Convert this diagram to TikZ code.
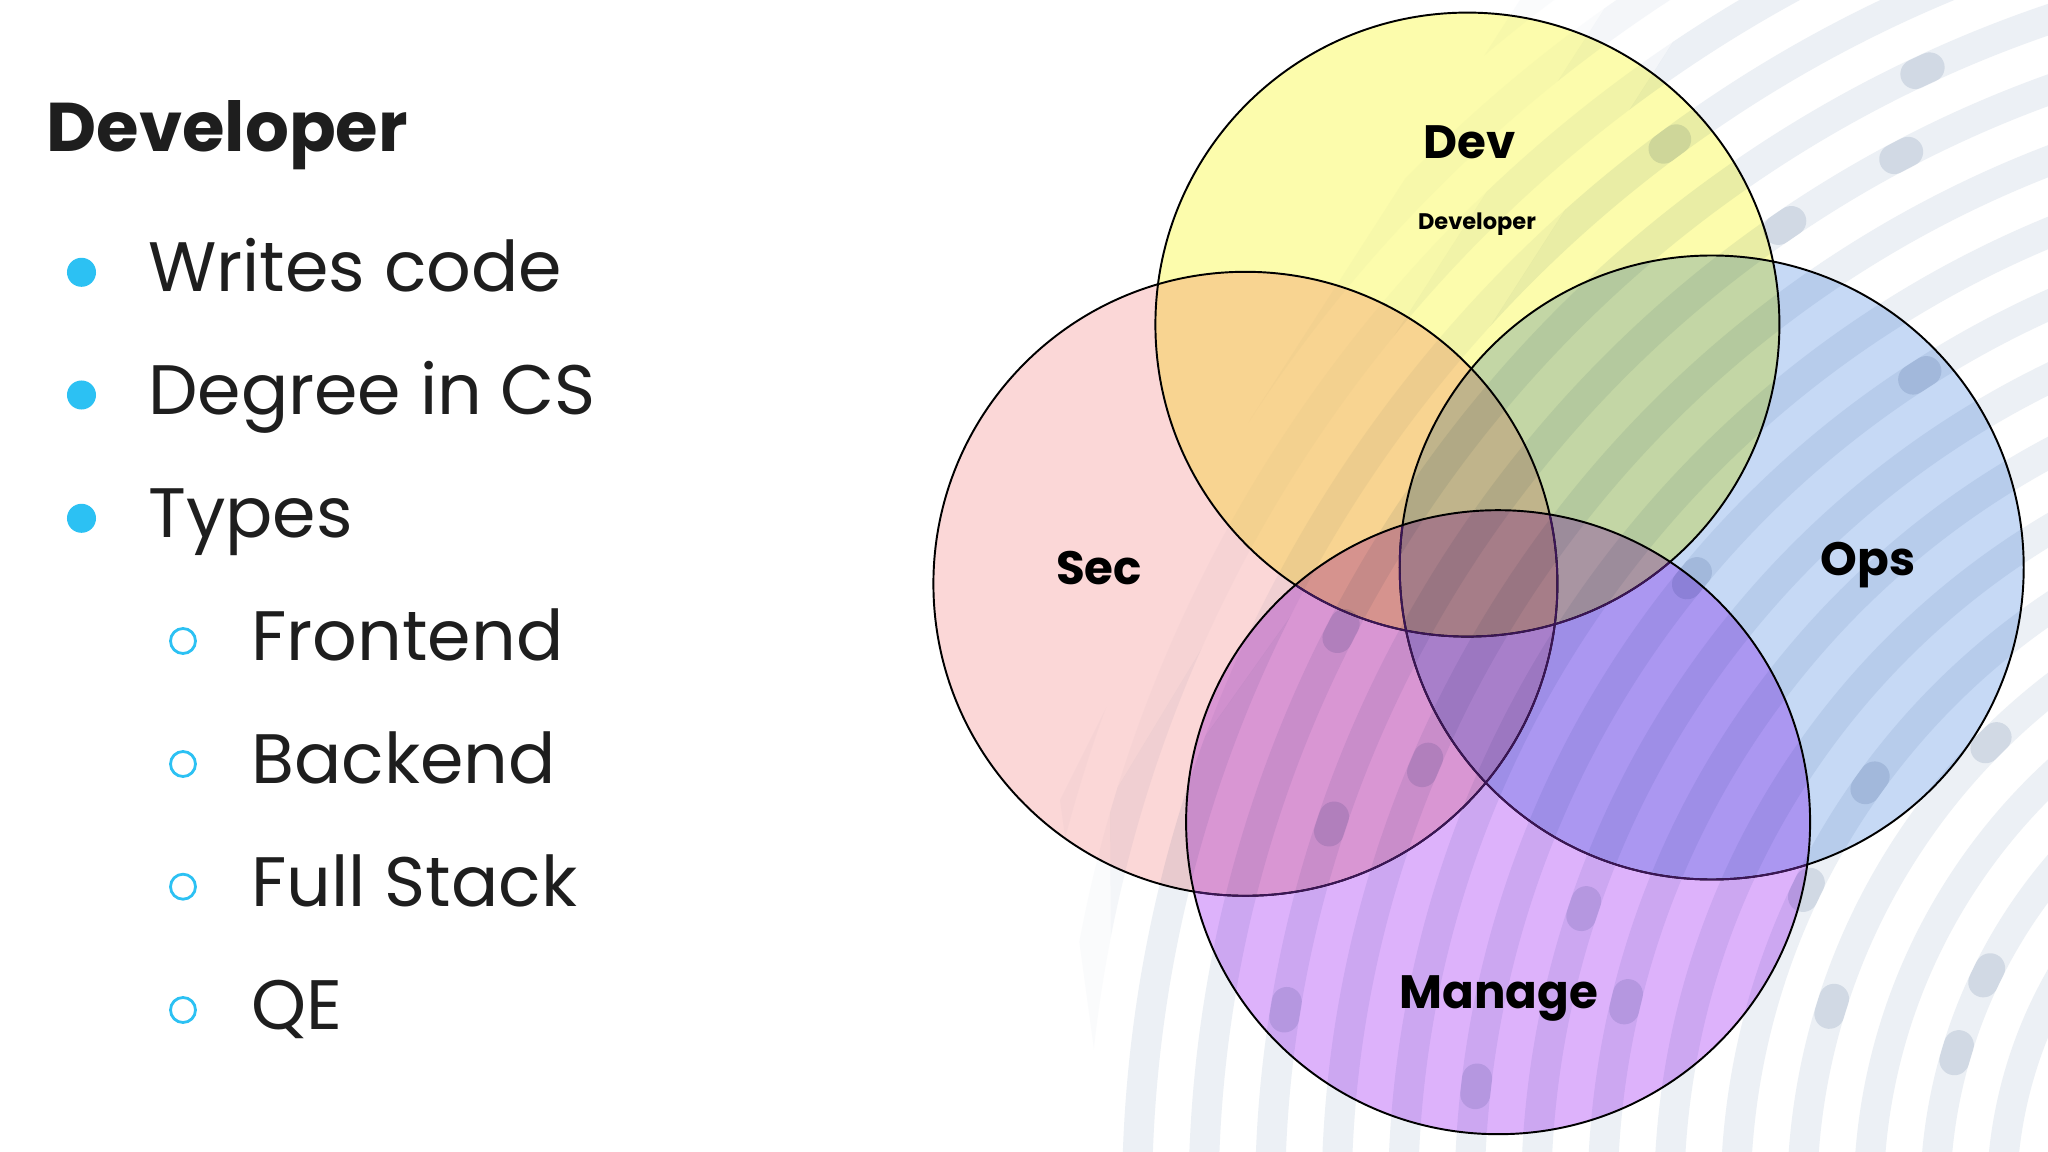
\documentclass[tikz,border=0pt]{standalone}
\usepackage{fontspec}
\setmainfont{Poppins}
\definecolor{bulletc}{HTML}{2CC1F3}
\definecolor{devc}{HTML}{FCFCAC}
\definecolor{secc}{HTML}{FBD7D7}
\definecolor{opsc}{HTML}{C6D9F5}
\definecolor{mgmc}{HTML}{DDB2FB}
\definecolor{stripec}{HTML}{ECF0F5}
\definecolor{blobc}{HTML}{E2E7EE}
\definecolor{txt}{HTML}{1E1E1E}
\definecolor{innerline}{HTML}{3B1556}
\newcommand\mystripes{%
  \foreach \k in {-5,...,17} {
    \draw[stripe] (C) circle[radius={1313-66.5*\k}];
  }
  \foreach \a/\r in {-115.4/1246.5,-118.1/1180,-124.7/1180,-126.8/1313,-123.2/980.5,
    -135.8/648,-144.9/714.5,-163.3/648,-155/515,-164.25/515,-154.9/714.5,
    -161.8/1180,-171.1/1180,-173.8/980.5,-161.9/914,-167/847.5,-157.4/1113.5,
    -153.2/1246.5,-141.1/980.5} {
    \draw[blob] (C) ++(\a:\r) arc[start angle=\a, delta angle={900/\r}, radius=\r];
  }%
}
\begin{document}
\begin{tikzpicture}[x=0.01cm,y=-0.01cm,
  title/.style={anchor=base west,inner sep=0,font=\fontsize{19.6}{24}\selectfont\bfseries,text=txt},
  item/.style={anchor=base west,inner sep=0,font=\fontsize{19.9}{24}\selectfont,text=txt},
  lbl/.style={anchor=base,inner sep=0,font=\fontsize{13.3}{16}\selectfont\bfseries,text=black},
  smalllbl/.style={anchor=base,inner sep=0,font=\fontsize{6.4}{8}\selectfont\bfseries,text=black},
  dotbullet/.style={circle,fill=bulletc,minimum size=0.29cm,inner sep=0},
  ringbullet/.style={circle,draw=bulletc,line width=0.028cm,minimum size=0.25cm,inner sep=0},
  stripe/.style={draw=stripec,line width=0.3cm},
  blob/.style={draw=blobc,line width=0.3cm,line cap=round},
  vline/.style={draw=black,line width=0.55pt}]
% canvas
\fill[white] (0,0) rectangle (2048,1152);
\useasboundingbox (0,0) rectangle (2048,1152);
% centres
\coordinate (C) at (2450,1200);
\coordinate (dev) at (1467.4,324.6);
\coordinate (sec) at (1245.4,583.8);
\coordinate (ops) at (1711.7,567.5);
\coordinate (mgm) at (1498.1,822.2);
% background arcs + circles (multiply)
\begin{scope}[blend group=multiply]
  \begin{scope}
    \clip (1700,0) -- (2048,0) -- (2048,1152) -- (1115,1152) -- (1160,800) -- (1430,420) -- cycle;
    \mystripes
  \end{scope}
  \begin{scope}[opacity=0.55]
    \clip (1700,0) -- (1430,420) -- (1160,800) -- (1115,1152) -- (1112,1152) -- (1110,800) -- (1340,420) -- (1610,0) -- cycle;
    \mystripes
  \end{scope}
  \begin{scope}[opacity=0.25]
    \clip (1610,0) -- (1340,420) -- (1110,800) -- (1112,1152) -- (1108,1152) -- (1060,800) -- (1250,420) -- (1520,0) -- cycle;
    \mystripes
  \end{scope}
  \fill[devc] (dev) circle[radius=312];
  \fill[secc] (sec) circle[radius=312];
  \fill[opsc] (ops) circle[radius=312];
  \fill[mgmc] (mgm) circle[radius=312];
\end{scope}
% outlines
\draw[vline] (dev) circle[radius=312];
\draw[vline] (sec) circle[radius=312];
\draw[vline] (ops) circle[radius=312];
\begin{scope}
  \clip (mgm) circle[radius=311];
  \draw[vline,draw=innerline] (dev) circle[radius=312];
  \draw[vline,draw=innerline] (sec) circle[radius=312];
  \draw[vline,draw=innerline] (ops) circle[radius=312];
\end{scope}
\draw[vline] (mgm) circle[radius=312];
% labels in circles
\node[lbl] (devlbl) at (1470,158.3) {Dev};
\node[smalllbl] (devsub) at (1477,229.3) {Developer};
\node[lbl] (seclbl) at (1099,584) {Sec};
\node[lbl] (opslbl) at (1868,575) {Ops};
\node[lbl] (mgmlbl) at (1499,1008) {Manage};
% left text
\node[title] (ttl) at (46,151.7) {Developer};
\node[dotbullet] (b1) at (81.5,272.3) {};
\node[dotbullet] (b2) at (81.5,395) {};
\node[dotbullet] (b3) at (81.5,518.3) {};
\node[item] (t1) at (147.6,291.7) {Writes code};
\node[item] (t2) at (147.6,414.3) {Degree in CS};
\node[item] (t3) at (147.6,537.3) {Types};
\node[ringbullet] (s1) at (183,641) {};
\node[ringbullet] (s2) at (183,764) {};
\node[ringbullet] (s3) at (183,886.7) {};
\node[ringbullet] (s4) at (183,1010) {};
\node[item] (u1) at (250.8,660) {Frontend};
\node[item] (u2) at (250.8,783.3) {Backend};
\node[item] (u3) at (250.8,906) {Full Stack};
\node[item] (u4) at (250.8,1029) {QE};
\end{tikzpicture}
\end{document}
